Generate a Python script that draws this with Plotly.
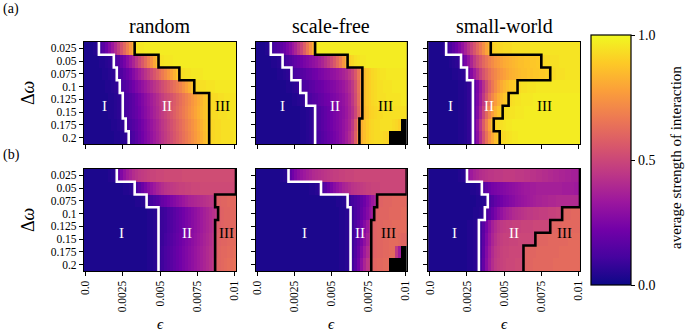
import plotly.graph_objects as go

# ---------------- data ----------------
eps = [0.0, 0.0002, 0.0004, 0.0006, 0.0008, 0.001, 0.0012, 0.0014, 0.0016, 0.0018,
       0.002, 0.0022, 0.0024, 0.0026, 0.0028, 0.003, 0.0032, 0.0034, 0.0036, 0.0038,
       0.004, 0.0042, 0.0044, 0.0046, 0.0048, 0.005, 0.0052, 0.0054, 0.0056, 0.0058,
       0.006, 0.0062, 0.0064, 0.0066, 0.0068, 0.007, 0.0072, 0.0074, 0.0076, 0.0078,
       0.008, 0.0082, 0.0084, 0.0086, 0.0088, 0.009, 0.0092, 0.0094, 0.0096, 0.0098,
       0.01]
dw = [0.025, 0.05, 0.075, 0.1, 0.125, 0.15, 0.175, 0.2]
dw_labels = ['0.025', '0.05', '0.075', '0.1', '0.125', '0.15', '0.175', '0.2']
eps_ticks = [0.0, 0.0025, 0.005, 0.0075, 0.01]
eps_ticklabels = ['0.0', '0.0025', '0.005', '0.0075', '0.01']
N = None

# average strength of interaction, in percent (None = no data)
random_a = [
    [3,3,3,4,6,12,16,21,27,33, 40,47,54,61,68,75,82,95,96,96, 97,97,97,97,97,97,97,97,97,97, 97,97,97,97,97,97,97,97,97,97, 97,97,97,97,97,97,97,97,97,97, 97],
    [3,3,3,3,3,4,4,5,6,8, 12,15,19,23,28,33,38,44,50,56, 62,68,74,80,86,94,95,96,96,96, 97,97,97,97,97,97,97,97,97,97, 97,97,97,97,97,97,97,97,97,97, 97],
    [3,3,3,3,3,3,4,4,5,6, 8,12,14,17,20,23,27,31,35,39, 43,47,51,55,59,63,67,71,75,79, 83,87,93,94,95,95,96,96,96,96, 97,97,97,97,97,97,97,97,97,97, 97],
    [3,3,3,3,3,3,3,4,4,5, 6,8,12,14,16,19,22,25,28,31, 34,37,40,43,46,49,52,55,58,61, 64,67,70,74,78,82,86,92,93,94, 94,95,95,95,96,96,96,96,96,96, 96],
    [3,3,3,3,3,3,3,3,4,4, 5,6,8,11,13,15,17,20,23,26, 29,32,35,38,41,44,47,50,52,54, 57,60,63,66,69,72,75,78,81,84, 87,89,92,93,93,94,94,95,95,95, 95],
    [3,3,3,3,3,3,3,3,4,4, 5,6,8,11,13,15,17,19,22,25, 28,31,34,37,40,43,46,49,52,55, 58,61,64,67,70,73,76,79,82,85, 87,89,92,93,93,94,94,94,95,95, 95],
    [3,3,3,3,3,3,3,3,3,4, 4,5,6,8,11,13,15,17,20,23, 26,29,32,35,38,41,44,47,50,53, 56,59,62,65,68,71,74,77,80,83, 86,89,91,92,93,93,94,94,94,95, 95],
    [3,3,3,3,3,3,3,3,3,3, 4,4,5,6,8,11,13,16,19,22, 25,28,31,34,37,40,43,46,49,52, 55,58,61,64,67,70,73,76,79,82, 85,88,91,92,93,93,94,94,94,94, 95],
]
scalefree_a = [
    [3,3,3,4,6,10,12,14,17,20, 24,28,33,38,44,50,58,66,74,82, 96,97,97,97,97,97,97,97,97,97, 97,97,97,97,97,97,97,97,97,97, 97,97,97,97,97,97,97,97,97,97, 97],
    [3,3,3,3,3,4,4,5,7,10, 12,14,16,18,20,22,24,26,28,30, 32,35,38,42,46,51,56,62,68,75, 82,90,92,94,95,96,96,97,97,97, 97,97,97,97,97,97,97,97,97,97, 97],
    [3,3,3,3,3,3,3,4,4,5, 6,8,10,12,13,15,16,18,19,21, 22,24,25,27,28,30,31,33,35,37, 40,44,49,56,65,75,85,88,90,92, 93,94,95,95,96,96,96,96,96,96, 96],
    [3,3,3,3,3,3,3,3,3,3, 4,4,5,6,8,11,13,14,16,17, 19,20,21,23,24,26,27,29,31,33, 36,40,45,53,63,75,85,88,90,92, 93,94,94,95,95,95,96,96,96,96, 96],
    [3,3,3,3,3,3,3,3,3,3, 3,3,4,4,5,6,8,11,13,15, 16,18,19,21,22,24,25,27,29,31, 34,38,44,52,62,74,85,88,90,92, 93,94,94,94,95,95,95,95,95,96, 96],
    [3,3,3,3,3,3,3,3,3,3, 3,3,3,3,3,4,4,5,6,8, 12,14,16,18,20,22,24,26,28,30, 33,37,42,50,60,73,84,87,90,91, 92,93,93,94,94,94,94,94,94,94, 94],
    [3,3,3,3,3,3,3,3,3,3, 3,3,3,3,3,4,4,5,6,8, 12,14,16,18,20,22,24,26,28,31, 34,38,45,56,70,82,86,89,91,92, 93,93,94,94,94,94,93,92,90,N, N],
    [3,3,3,3,3,3,3,3,3,3, 3,3,3,3,3,4,4,5,6,8, 11,13,15,17,19,21,23,25,28,31, 35,40,47,58,72,82,86,89,91,92, 93,93,93,92,91,N,N,N,N,N, N],
]
smallworld_a = [
    [3,3,3,3,4,6,10,13,17,21, 26,31,37,43,49,55,61,67,73,79, 84,90,91,92,92,93,93,93,94,94, 94,94,94,94,95,95,95,95,95,95, 95,95,95,95,95,95,95,95,95,95, 95],
    [3,3,3,3,3,3,3,4,5,6, 8,18,24,31,38,45,51,56,61,65, 69,72,75,77,79,81,82,83,84,85, 86,86,87,87,88,88,89,89,92,93, 93,94,94,94,95,95,95,95,95,95, 95],
    [3,3,3,3,3,3,3,3,4,4, 5,6,8,20,27,34,41,48,54,59, 64,68,71,74,76,78,80,82,83,84, 85,86,86,87,87,88,88,89,89,90, 90,93,93,94,94,94,95,95,95,95, 95],
    [3,3,3,3,3,3,3,3,3,3, 4,4,5,7,9,16,24,33,42,51, 59,66,72,77,81,84,86,88,89,90, 93,94,94,95,95,95,96,96,96,96, 96,96,96,96,96,96,96,96,96,96, 96],
    [3,3,3,3,3,3,3,3,3,3, 4,4,5,7,9,17,25,35,45,55, 64,71,77,82,85,88,90,93,94,95, 95,96,96,96,96,97,97,97,97,97, 97,97,97,97,97,97,97,97,97,97, 97],
    [3,3,3,3,3,3,3,3,3,3, 4,4,5,7,9,18,27,38,50,61, 70,77,83,87,90,93,94,95,95,96, 96,96,97,97,97,97,97,97,97,97, 97,97,97,97,97,97,97,97,97,97, 97],
    [3,3,3,3,3,3,3,3,3,3, 4,4,5,7,9,20,31,44,57,68, 78,86,91,93,94,95,96,96,97,97, 97,97,97,97,97,97,97,97,97,97, 97,97,97,97,97,97,97,97,97,97, 97],
    [3,3,3,3,3,3,3,3,3,3, 4,4,5,7,9,19,29,41,53,64, 73,80,86,89,92,93,94,95,96,96, 97,97,97,97,97,97,97,97,97,97, 97,97,97,97,97,97,97,97,97,97, 97],
]
random_b = [
    [3,3,3,3,3,3,3,3,4,5, 7,20,26,31,35,38,41,43,45,46, 47,48,49,49,50,50,50,51,51,51, 51,51,51,52,52,52,52,52,52,52, 52,52,52,52,52,52,52,52,52,52, 52],
    [3,3,3,3,3,3,3,3,3,3, 3,3,3,4,4,5,7,12,16,20, 24,28,31,34,37,39,41,43,44,45, 46,47,48,48,49,49,50,50,50,51, 51,51,51,51,51,51,51,51,51,51, 51],
    [3,3,3,3,3,3,3,3,3,3, 3,3,3,3,3,3,3,4,4,5, 7,9,11,13,15,17,19,21,23,25, 27,29,31,33,35,37,38,39,40,41, 42,43,44,45,58,59,60,60,61,61, 61],
    [3,3,3,3,3,3,3,3,3,3, 3,3,3,3,3,3,3,3,3,3, 3,4,4,5,7,8,9,10,12,14, 16,18,20,22,24,26,28,30,32,34, 36,38,40,42,45,58,59,60,60,61, 61],
    [3,3,3,3,3,3,3,3,3,3, 3,3,3,3,3,3,3,3,3,3, 3,4,4,5,7,8,9,10,12,14, 16,18,20,22,24,26,28,30,32,34, 36,38,40,43,57,58,59,60,60,61, 61],
    [3,3,3,3,3,3,3,3,3,3, 3,3,3,3,3,3,3,3,3,3, 3,4,4,5,7,8,9,11,13,15, 17,19,21,23,25,27,29,31,33,35, 37,39,41,44,58,59,60,60,61,62, 62],
    [3,3,3,3,3,3,3,3,3,3, 3,3,3,3,3,3,3,3,3,3, 3,4,4,5,7,8,10,12,14,16, 18,20,22,24,26,28,30,32,34,36, 38,40,42,44,58,60,61,61,62,62, 63],
    [3,3,3,3,3,3,3,3,3,3, 3,3,3,3,3,3,3,3,3,3, 3,4,4,5,7,8,10,12,14,16, 18,20,22,24,26,28,30,32,34,36, 38,40,42,45,59,60,61,62,63,63, 64],
]
scalefree_b = [
    [3,3,3,3,3,3,3,3,4,5, 7,18,22,26,29,32,34,36,38,40, 41,42,43,44,45,46,47,47,48,48, 49,49,49,50,50,50,50,50,50,50, 50,50,50,50,50,50,50,50,50,50, 50],
    [3,3,3,3,3,3,3,3,3,3, 3,3,3,3,3,3,3,3,4,4, 5,7,12,16,20,24,28,31,34,37, 39,41,43,44,45,46,47,48,48,49, 49,49,50,50,50,50,50,50,50,50, 50],
    [3,3,3,3,3,3,3,3,3,3, 3,3,3,3,3,3,3,3,3,3, 3,3,3,3,3,3,3,4,4,5, 7,9,11,13,15,18,21,25,29,33, 37,58,59,60,60,60,61,61,61,61, 61],
    [3,3,3,3,3,3,3,3,3,3, 3,3,3,3,3,3,3,3,3,3, 3,3,3,3,3,3,3,3,4,4, 5,7,9,12,15,19,23,27,31,35, 58,59,60,60,60,61,61,61,61,62, 62],
    [3,3,3,3,3,3,3,3,3,3, 3,3,3,3,3,3,3,3,3,3, 3,3,3,3,3,3,3,3,4,4, 5,7,9,13,17,22,27,33,40,58, 59,60,60,61,61,61,62,62,62,62, 62],
    [3,3,3,3,3,3,3,3,3,3, 3,3,3,3,3,3,3,3,3,3, 3,3,3,3,3,3,3,3,4,4, 5,7,9,13,18,24,30,36,42,58, 59,60,60,61,61,62,62,62,61,60, 60],
    [3,3,3,3,3,3,3,3,3,3, 3,3,3,3,3,3,3,3,3,3, 3,3,3,3,3,3,3,3,4,4, 5,7,9,14,20,27,34,40,45,58, 59,60,60,61,61,62,62,45,35,N, N],
    [3,3,3,3,3,3,3,3,3,3, 3,3,3,3,3,3,3,3,3,3, 3,3,3,3,3,3,3,3,4,4, 5,7,10,15,22,30,38,44,48,59, 60,61,61,62,62,N,N,N,N,N, N],
]
smallworld_b = [
    [3,3,3,3,3,3,3,3,3,3, 4,5,7,30,34,37,39,41,42,43, 44,44,45,45,45,46,46,46,46,45, 45,45,44,44,43,43,42,42,41,41, 40,40,39,39,38,38,37,37,36,36, 36],
    [3,3,3,3,3,3,3,3,3,3, 3,3,3,3,4,4,5,7,14,18, 21,23,24,25,26,27,28,29,30,31, 32,33,34,34,35,35,36,36,36,36, 36,36,36,36,36,35,35,35,35,34, 34],
    [3,3,3,3,3,3,3,3,3,3, 3,3,3,3,3,3,4,4,5,7, 12,15,18,20,22,24,25,27,28,30, 31,32,33,34,35,36,37,37,38,38, 39,39,39,40,40,40,40,40,40,40, 40],
    [3,3,3,3,3,3,3,3,3,3, 3,3,3,3,3,4,4,5,7,12, 16,20,24,28,31,34,36,38,40,41, 42,43,44,45,45,46,46,47,47,47, 48,48,48,49,49,59,60,60,61,61, 61],
    [3,3,3,3,3,3,3,3,3,3, 3,3,3,4,4,5,7,10,16,23, 30,36,40,43,45,46,47,47,48,48, 48,49,49,49,49,50,50,50,50,50, 50,59,60,60,60,61,61,61,61,61, 61],
    [3,3,3,3,3,3,3,3,3,3, 3,3,3,4,4,5,7,10,17,25, 32,38,42,45,47,48,48,49,49,49, 50,50,50,50,50,50,59,60,60,60, 61,61,61,61,61,61,61,62,62,62, 62],
    [3,3,3,3,3,3,3,3,3,3, 3,3,3,4,4,5,7,10,18,27, 34,40,44,46,48,49,49,50,50,50, 50,50,59,60,60,60,61,61,61,61, 61,61,61,61,62,62,62,62,62,62, 62],
    [3,3,3,3,3,3,3,3,3,3, 3,3,3,4,4,5,7,11,19,28, 35,41,45,47,48,49,50,50,50,51, 51,51,59,60,60,61,61,61,61,61, 61,61,62,62,62,62,62,62,62,62, 62],
]

# first column (index into eps) of regime II (white boundary) and regime III (black boundary), per row
white_random_a = [5, 10, 11, 12, 13, 13, 14, 15]
black_random_a = [17, 25, 32, 37, 42, 42, 42, 42]
white_scalefree_a = [5, 9, 12, 15, 17, 20, 20, 20]
black_scalefree_a = [20, 31, 36, 36, 36, 36, 35, 35]
white_smallworld_a = [6, 11, 13, 15, 15, 15, 15, 15]
black_smallworld_a = [21, 38, 41, 30, 27, 25, 22, 24]
white_random_b = [11, 17, 21, 25, 25, 25, 25, 25]
black_random_b = [51, 51, 44, 45, 44, 44, 44, 44]
white_scalefree_b = [11, 22, 31, 32, 32, 32, 32, 32]
black_scalefree_b = [51, 51, 41, 40, 39, 39, 39, 39]
white_smallworld_b = [13, 18, 20, 19, 17, 17, 17, 17]
black_smallworld_b = [51, 51, 51, 45, 41, 36, 32, 32]

regime_names = ['I', 'II', 'III']
regime_eps_random_a = [0.0013, 0.00545, 0.0092]
regime_eps_scalefree_a = [0.00168, 0.00525, 0.00868]
regime_eps_smallworld_a = [0.00136, 0.0040, 0.0077]
regime_eps_random_b = [0.00243, 0.00679, 0.00948]
regime_eps_scalefree_b = [0.00317, 0.00694, 0.0089]
regime_eps_smallworld_b = [0.00163, 0.00566, 0.00909]
regime_dw = 0.1375

titles = ['random', 'scale-free', 'small-world']

# ---------------- figure ----------------
FONT = 'Liberation Serif, DejaVu Serif, serif'
W, H = 685, 336
xdom = [[84 / W, 236 / W], [256 / W, 406.7 / W], [428.3 / W, 580 / W]]
ydom = [[1 - 144 / H, 1 - 42 / H], [1 - 271 / H, 1 - 169 / H]]

panels = [
    (random_a, white_random_a, black_random_a, regime_eps_random_a),
    (scalefree_a, white_scalefree_a, black_scalefree_a, regime_eps_scalefree_a),
    (smallworld_a, white_smallworld_a, black_smallworld_a, regime_eps_smallworld_a),
    (random_b, white_random_b, black_random_b, regime_eps_random_b),
    (scalefree_b, white_scalefree_b, black_scalefree_b, regime_eps_scalefree_b),
    (smallworld_b, white_smallworld_b, black_smallworld_b, regime_eps_smallworld_b),
]

half_x = (eps[1] - eps[0]) / 2
half_y = (dw[1] - dw[0]) / 2


def stair(edges):
    xs, ys = [], []
    for r, k in enumerate(edges):
        x = eps[k] - half_x if k < len(eps) else eps[-1] + half_x
        xs += [x, x]
        ys += [dw[r] - half_y, dw[r] + half_y]
    return xs, ys


def paper_text(x, y, text, size, angle=0):
    return dict(x=x, y=y, xref='paper', yref='paper', text=text, showarrow=False,
                xanchor='center', yanchor='middle', textangle=angle,
                font=dict(family=FONT, size=size, color='black'))


fig = go.Figure()
annotations = []
layout = {}
for i, (mat, wl, bl, reps) in enumerate(panels):
    row, col = i // 3, i % 3
    xa = 'x' if i == 0 else f'x{i + 1}'
    ya = 'y' if i == 0 else f'y{i + 1}'
    z = [[None if v is None else v / 100 for v in r] for r in mat]
    hm = dict(x=eps, y=dw, z=z, colorscale='Plasma', zmin=0, zmax=1,
              xaxis=xa, yaxis=ya, hoverinfo='skip', showscale=(i == 0))
    if i == 0:
        hm['colorbar'] = dict(
            x=591 / W, xanchor='left', y=1 - 160 / H, yanchor='middle',
            thickness=40, thicknessmode='pixels', len=250, lenmode='pixels',
            xpad=0, ypad=0, outlinewidth=1.2, outlinecolor='black',
            tickvals=[0, 0.5, 1], ticktext=['0.0', '0.5', '1.0'],
            ticks='outside', ticklen=4, tickcolor='black',
            tickfont=dict(family=FONT, size=14, color='black'))
    fig.add_trace(go.Heatmap(**hm))
    for edges, colr in ((wl, 'white'), (bl, 'black')):
        xs, ys = stair(edges)
        fig.add_trace(go.Scatter(x=xs, y=ys, mode='lines', xaxis=xa, yaxis=ya,
                                 line=dict(color=colr, width=2.6),
                                 hoverinfo='skip', showlegend=False))
    for name, ex in zip(regime_names, reps):
        annotations.append(dict(x=ex, y=regime_dw, xref=xa, yref=ya, text=name,
                                showarrow=False, xanchor='center', yanchor='middle',
                                font=dict(family=FONT, size=15,
                                          color='black' if name == 'III' else 'white')))
    axis_common = dict(showline=True, mirror=True, linecolor='black', linewidth=1.2,
                       ticks='outside', ticklen=4, tickwidth=1, tickcolor='black',
                       showgrid=False, zeroline=False, automargin=False,
                       tickfont=dict(family=FONT, size=11.5, color='black'))
    layout['xaxis' if i == 0 else f'xaxis{i + 1}'] = dict(
        domain=xdom[col], anchor=ya, range=[eps[0] - half_x, eps[-1] + half_x],
        tickvals=eps_ticks, ticktext=eps_ticklabels, tickangle=-90,
        showticklabels=(row == 1), **axis_common)
    layout['yaxis' if i == 0 else f'yaxis{i + 1}'] = dict(
        domain=ydom[row], anchor=xa, range=[dw[-1] + half_y, dw[0] - half_y],
        tickvals=dw, ticktext=dw_labels, showticklabels=(col == 0), **axis_common)

# titles and axis labels
for c, t in enumerate(titles):
    annotations.append(paper_text(sum(xdom[c]) / 2, 1 - 26 / H, t, 20))
    annotations.append(paper_text(sum(xdom[c]) / 2, 1 - 324 / H, '<i>ϵ</i>', 15))
for yc in (93, 220):
    annotations.append(paper_text(28 / W, 1 - yc / H, 'Δ<i>ω</i>', 18, -90))
annotations.append(paper_text(11 / W, 1 - 9 / H, '(a)', 14))
annotations.append(paper_text(11 / W, 1 - 155 / H, '(b)', 14))
annotations.append(paper_text(676 / W, 1 - 158 / H, 'average strength of interaction', 15, -90))

fig.update_layout(width=W, height=H,
                  margin=dict(l=0, r=0, t=0, b=0, pad=0, autoexpand=False),
                  template='none',
                  paper_bgcolor='white', plot_bgcolor='black',
                  showlegend=False, annotations=annotations, **layout)

fig.write_html('out.html', config={'displayModeBar': False},
               post_script="document.body.style.margin='0';document.body.style.overflow='hidden';")
